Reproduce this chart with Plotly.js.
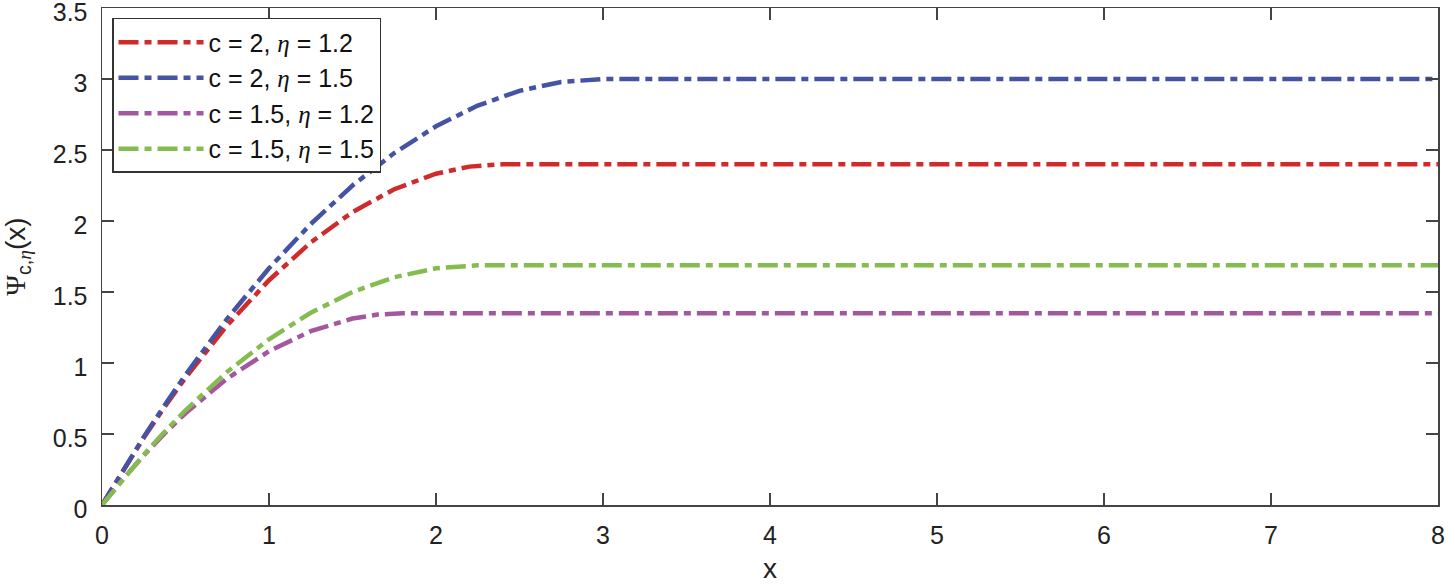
<!DOCTYPE html>
<html>
<head>
<meta charset="utf-8">
<script src="https://cdn.plot.ly/plotly-3.0.1.min.js"></script>
<style>html,body{margin:0;padding:0;background:#fff;}#chart{width:1450px;height:584px;}</style>
</head>
<body>
<div id="chart"></div>
<script>
// Series
const ETA = '<span style="font-family:Liberation Serif,serif"><i>η</i></span>';
const names = ["c = 2, " + ETA + " = 1.2", "c = 2, " + ETA + " = 1.5", "c = 1.5, " + ETA + " = 1.2", "c = 1.5, " + ETA + " = 1.5"];
const colors = ["#d12a2a", "#4453a3", "#a4579f", "#84bc4f"];

const xRed = [0, 0.125, 0.25, 0.375, 0.5, 0.75, 1, 1.25, 1.5, 1.75, 2, 2.2, 2.4, 8];
const yRed = [0, 0.243, 0.474, 0.691, 0.896, 1.266, 1.583, 1.849, 2.063, 2.224, 2.333, 2.383, 2.4, 2.4];

const xBlue = [0, 0.125, 0.25, 0.375, 0.5, 0.75, 1, 1.25, 1.5, 1.75, 2, 2.25, 2.5, 2.75, 3, 8];
const yBlue = [0, 0.245, 0.479, 0.703, 0.917, 1.313, 1.667, 1.979, 2.25, 2.479, 2.667, 2.813, 2.917, 2.979, 3, 3];

const xPurple = [0, 0.125, 0.25, 0.375, 0.5, 0.75, 1, 1.25, 1.5, 1.65, 1.8, 8];
const yPurple = [0, 0.181, 0.349, 0.504, 0.646, 0.891, 1.083, 1.224, 1.313, 1.341, 1.35, 1.35];

const xGreen = [0, 0.125, 0.25, 0.375, 0.5, 0.75, 1, 1.25, 1.5, 1.75, 2, 2.25, 8];
const yGreen = [0, 0.182, 0.354, 0.516, 0.667, 0.938, 1.167, 1.354, 1.5, 1.604, 1.667, 1.688, 1.688];

const xTicks = [0, 1, 2, 3, 4, 5, 6, 7, 8];
const yTicks = [0, 0.5, 1, 1.5, 2, 2.5, 3, 3.5];
const yTickLabels = ["0", "0.5", "1", "1.5", "2", "2.5", "3", "3.5"];

const xs = [xRed, xBlue, xPurple, xGreen];
const ys = [yRed, yBlue, yPurple, yGreen];

const traces = xs.map((x, i) => ({
  x: x, y: ys[i], type: "scatter", mode: "lines", name: names[i], legendgroup: "g" + i,
  line: {color: colors[i], width: 4.5, dash: "20px,6px,7px,6px", shape: "linear"}
}));

const FONT = "Liberation Sans, Arial, sans-serif";
const axisCommon = {
  showline: true, mirror: "ticks", linecolor: "#444", linewidth: 1.5,
  ticks: "inside", ticklen: 12, tickwidth: 1.5, tickcolor: "#444",
  showgrid: false, zeroline: false, ticklabeloverflow: "allow",
  tickfont: {family: FONT, size: 25, color: "#222"}
};

const layout = {
  width: 1450, height: 584,
  margin: {l: 102, r: 12, t: 8, b: 79},
  paper_bgcolor: "#fff", plot_bgcolor: "#fff",
  showlegend: true,
  legend: {
    x: 0.0075, y: 0.98, xanchor: "left", yanchor: "top",
    bgcolor: "#fff", bordercolor: "#333", borderwidth: 1.5,
    font: {family: FONT, size: 25, color: "#111"},
    tracegroupgap: 0, itemwidth: 85
  },
  xaxis: Object.assign({}, axisCommon, {
    range: [0, 8.0001], tickvals: xTicks, ticktext: xTicks.map(String), ticklabelstandoff: 7,
    title: {text: "x", font: {family: FONT, size: 28, color: "#222"}, standoff: 36}
  }),
  yaxis: Object.assign({}, axisCommon, {
    range: [0, 3.5001], tickvals: yTicks, ticktext: yTickLabels, ticklabelstandoff: 8, ticklabelshift: 4,
    title: {text: '<span style="font-family:Liberation Serif,serif">Ψ</span><sub>c,' + ETA + '</sub>(x)', font: {family: FONT, size: 28, color: "#222"}, standoff: 26}
  })
};

Plotly.newPlot("chart", traces, layout, {displayModeBar: false, staticPlot: true});
</script>
</body>
</html>
